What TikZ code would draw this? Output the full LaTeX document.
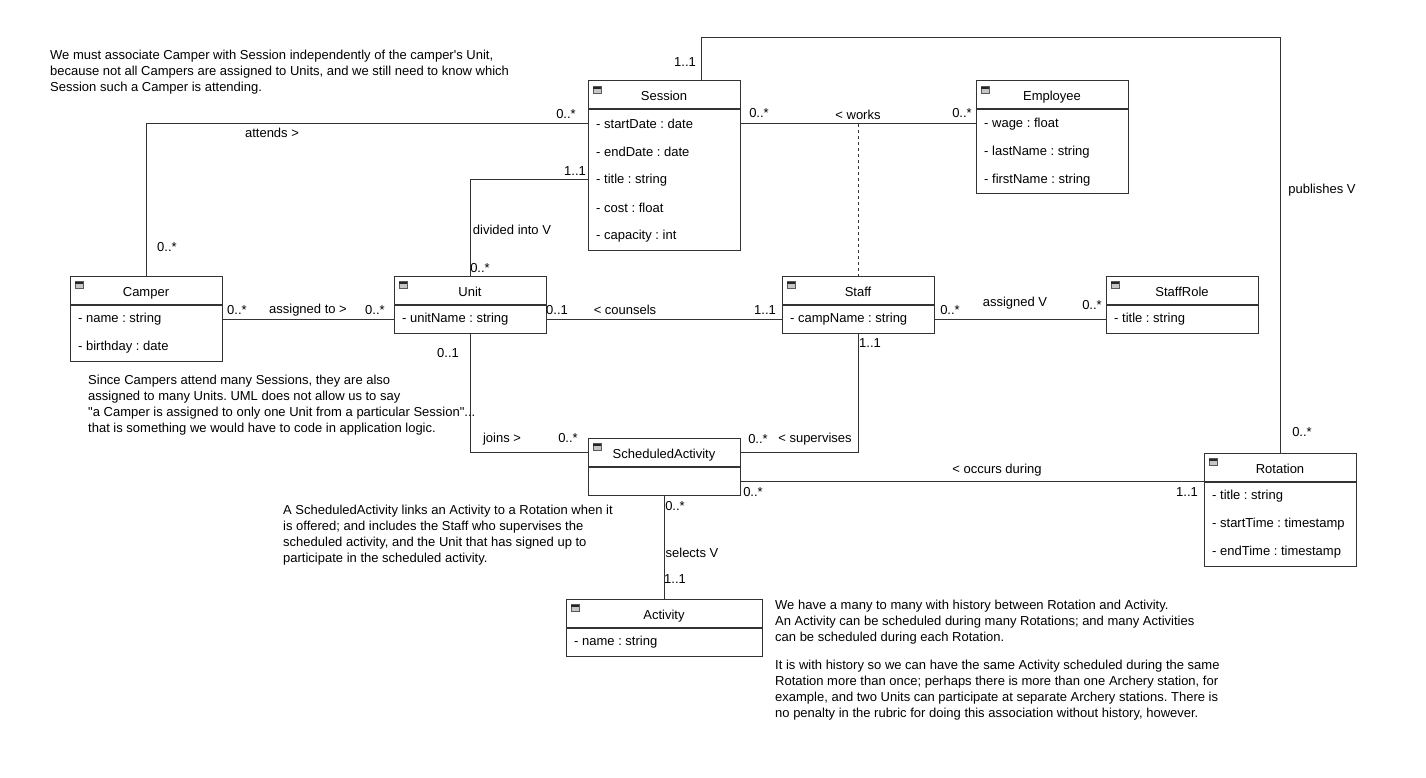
\documentclass[tikz,border=0pt]{standalone}
\usepackage{fontspec}
\setmainfont{Liberation Sans}
\usetikzlibrary{positioning}
\frenchspacing

\tikzset{
    umlhead/.style={draw=black!80, line width=1pt, minimum width=152pt,
        minimum height=28pt, inner sep=0pt, text height=12pt, text depth=0pt,
        path picture={
            \filldraw[fill=gray!45, draw=gray!70!black, line width=0.6pt]
                ([shift={(5,5)}]path picture bounding box.north west) rectangle ++(8,7);
            \draw[black!85, line width=1.6pt]
                ([shift={(5,7)}]path picture bounding box.north west) -- ++(8,0);
        }},
    umlbody/.style={draw=black!80, line width=1pt, minimum width=152pt,
        inner sep=0pt, below=0pt of #1},
    attr/.style={anchor=west, inner sep=0pt},
    mult/.style={inner sep=0pt},
    note/.style={align=left, anchor=north west, inner sep=0pt},
    assoc/.style={draw=black!80, line width=1pt}
}

\begin{document}
\begin{tikzpicture}[x=1pt, y=-1pt, font=\fontsize{13}{16}\selectfont]
    \fill[white] (0,0) rectangle (1426,778);
    \useasboundingbox (0,0) rectangle (1426,778);

    % classes
    \node[umlhead] (session) at (664,95) {Session};
    \node[umlbody=session, minimum height=140pt] (session-body) {};
    \node[attr] (session-a1) at (596,124) {- startDate : date};
    \node[attr] (session-a2) at (596,152) {- endDate : date};
    \node[attr] (session-a3) at (596,180) {- title : string};
    \node[attr] (session-a4) at (596,208) {- cost : float};
    \node[attr] (session-a5) at (596,236) {- capacity : int};

    \node[umlhead] (employee) at (1052,95) {Employee};
    \node[umlbody=employee, minimum height=84pt] (employee-body) {};
    \node[attr] (employee-a1) at (984,124) {- wage : float};
    \node[attr] (employee-a2) at (984,152) {- lastName : string};
    \node[attr] (employee-a3) at (984,180) {- firstName : string};

    \node[umlhead] (camper) at (146,290) {Camper};
    \node[umlbody=camper, minimum height=56pt] (camper-body) {};
    \node[attr] (camper-a1) at (78,319) {- name : string};
    \node[attr] (camper-a2) at (78,347) {- birthday : date};

    \node[umlhead] (unit) at (470,290) {Unit};
    \node[umlbody=unit, minimum height=28pt] (unit-body) {};
    \node[attr] (unit-a1) at (402,319) {- unitName : string};

    \node[umlhead] (staff) at (858,290) {Staff};
    \node[umlbody=staff, minimum height=28pt] (staff-body) {};
    \node[attr] (staff-a1) at (790,319) {- campName : string};

    \node[umlhead] (staffrole) at (1182,290) {StaffRole};
    \node[umlbody=staffrole, minimum height=28pt] (staffrole-body) {};
    \node[attr] (staffrole-a1) at (1114,319) {- title : string};

    \node[umlhead] (schedact) at (664,452) {ScheduledActivity};
    \node[umlbody=schedact, minimum height=28pt] (schedact-body) {};

    \node[umlhead] (rotation) at (1280,467) {Rotation};
    \node[umlbody=rotation, minimum height=84pt] (rotation-body) {};
    \node[attr] (rotation-a1) at (1212,496) {- title : string};
    \node[attr] (rotation-a2) at (1212,524) {- startTime : timestamp};
    \node[attr] (rotation-a3) at (1212,552) {- endTime : timestamp};

    \node[umlhead, minimum width=196pt] (activity) at (664,613) {Activity};
    \node[umlbody=activity, minimum width=196pt, minimum height=28pt] (activity-body) {};
    \node[attr] (activity-a1) at (574,642) {- name : string};

    % associations
    \coordinate (pubtop) at (1280,38);
    \draw[assoc] ([xshift=37pt]session.north) |- (pubtop) -- (rotation.north);
    \draw[assoc] (session-body.west |- session-a1) -| (camper.north);
    \draw[assoc] (session-body.east |- session-a1) -- (employee-body.west |- employee-a1);
    \draw[assoc, dashed] (staff.north |- session-a1) -- (staff.north);
    \draw[assoc] (session-body.west |- session-a3) -| (unit.north);
    \draw[assoc] (camper-body.east |- unit-body.west) -- (unit-body.west);
    \draw[assoc] (unit-body.east) -- (staff-body.west);
    \draw[assoc] (staff-body.east) -- (staffrole-body.west);
    \draw[assoc] (unit-body.south) |- (schedact.west);
    \draw[assoc] (staff-body.south) |- (schedact.east);
    \draw[assoc] (schedact-body.south) -- (activity.north);
    \draw[assoc] (schedact-body.east) -- (rotation.west |- schedact-body.east);

    % multiplicities and roles
    \node[mult] (m-pub-s) at (685,62) {1..1};
    \node[mult] (m-pub) at (1322,190) {publishes V};
    \node[mult] (m-pub-r) at (1302,432) {0..*};
    \node[mult] (m-att-s) at (566,114) {0..*};
    \node[mult] (m-att) at (272,133) {attends >};
    \node[mult] (m-att-c) at (167,247) {0..*};
    \node[mult] (m-wrk-s) at (759,113) {0..*};
    \node[mult] (m-wrk) at (858,115) {< works};
    \node[mult] (m-wrk-e) at (962,113) {0..*};
    \node[mult] (m-div-s) at (575,171) {1..1};
    \node[mult] (m-div) at (512,230) {divided into V};
    \node[mult] (m-div-u) at (480,268) {0..*};
    \node[mult] (m-asg-c) at (237,310) {0..*};
    \node[mult] (m-asg) at (308,310) {assigned to >};
    \node[mult] (m-asg-u) at (375,310) {0..*};
    \node[mult] (m-cns-u) at (557,310) {0..1};
    \node[mult] (m-cns) at (625,310) {< counsels};
    \node[mult] (m-cns-s) at (765,310) {1..1};
    \node[mult] (m-role-s) at (950,310) {0..*};
    \node[mult] (m-role) at (1015,303) {assigned V};
    \node[mult] (m-role-r) at (1092,305) {0..*};
    \node[mult] (m-join-u) at (448,353) {0..1};
    \node[mult] (m-join) at (502,439) {joins >};
    \node[mult] (m-join-a) at (568,438) {0..*};
    \node[mult] (m-sup-s) at (870,343) {1..1};
    \node[mult] (m-sup-a) at (758,439) {0..*};
    \node[mult] (m-sup) at (815,439) {< supervises};
    \node[mult] (m-occ) at (997,470) {< occurs during};
    \node[mult] (m-occ-a) at (753,492) {0..*};
    \node[mult] (m-occ-r) at (1187,492) {1..1};
    \node[mult] (m-sel-a) at (675,506) {0..*};
    \node[mult] (m-sel) at (692,553) {selects V};
    \node[mult] (m-sel-c) at (675,579) {1..1};

    % notes
    \node[note] (note-session) at (50,50) {We must associate Camper with Session independently of the camper\textquotesingle s Unit,\\
        because not all Campers are assigned to Units, and we still need to know which\\
        Session such a Camper is attending.};
    \node[note] (note-unit) at (88,375) {Since Campers attend many Sessions, they are also\\
        assigned to many Units. UML does not allow us to say\\
        \textquotedbl a Camper is assigned to only one Unit from a particular Session\textquotedbl...\\
        that is something we would have to code in application logic.};
    \node[note] (note-schedact) at (283,505) {A ScheduledActivity links an Activity to a Rotation when it\\
        is offered; and includes the Staff who supervises the\\
        scheduled activity, and the Unit that has signed up to\\
        participate in the scheduled activity.};
    \node[note] (note-history) at (775,600) {We have a many to many with history between Rotation and Activity.\\
        An Activity can be scheduled during many Rotations; and many Activities\\
        can be scheduled during each Rotation.\\[12pt]
        It is with history so we can have the same Activity scheduled during the same\\
        Rotation more than once; perhaps there is more than one Archery station, for\\
        example, and two Units can participate at separate Archery stations. There is\\
        no penalty in the rubric for doing this association without history, however.};
\end{tikzpicture}
\end{document}
